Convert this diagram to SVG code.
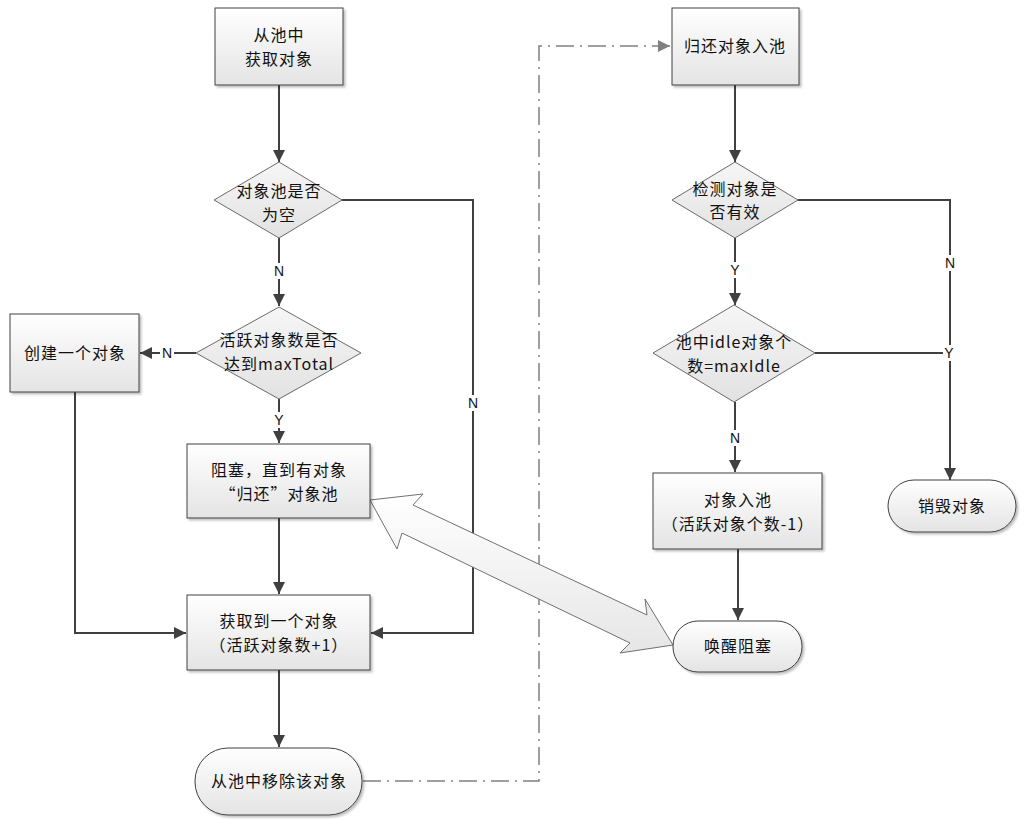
<svg xmlns="http://www.w3.org/2000/svg" width="1028" height="829" viewBox="0 0 1028 829">
<defs>
<linearGradient id="gBox" x1="0" y1="0" x2="0" y2="1">
<stop offset="0" stop-color="#ffffff"/>
<stop offset="1" stop-color="#e4e4e4"/>
</linearGradient>
<linearGradient id="gDia" x1="0" y1="0" x2="0" y2="1">
<stop offset="0" stop-color="#f6f6f6"/>
<stop offset="1" stop-color="#e2e2e2"/>
</linearGradient>
<linearGradient id="gBig" x1="0" y1="0" x2="0" y2="1">
<stop offset="0" stop-color="#ffffff"/>
<stop offset="1" stop-color="#e6e6e6"/>
</linearGradient>
<filter id="sh" x="-10%" y="-10%" width="130%" height="130%">
<feDropShadow dx="2" dy="2" stdDeviation="1" flood-color="#000" flood-opacity="0.25"/>
</filter>
<marker id="ah" viewBox="0 0 12 12" refX="12" refY="6" markerWidth="12" markerHeight="12" markerUnits="userSpaceOnUse" orient="auto">
<path d="M0,0 L12,6 L0,12 z" fill="#404040"/>
</marker>
<marker id="ahg" viewBox="0 0 12 12" refX="12" refY="6" markerWidth="12" markerHeight="12" markerUnits="userSpaceOnUse" orient="auto">
<path d="M0,0 L12,6 L0,12 z" fill="#808080"/>
</marker>
</defs>
<style>
.box{fill:url(#gBox);stroke:#404040;stroke-width:1;filter:url(#sh)}
.dia{fill:url(#gDia);stroke:#6a6a6a;stroke-width:1}
.t{font-family:"Noto Sans CJK SC","Noto Sans",sans-serif;font-size:16px;fill:#111;text-anchor:middle;letter-spacing:1px}
.c{fill:none;stroke:#404040;stroke-width:2}
.dd{fill:none;stroke:#808080;stroke-width:1.5;stroke-dasharray:18 6 2 6}
.lb{font-family:"Liberation Sans","Noto Sans",sans-serif;font-size:14px;fill:#111;text-anchor:middle}
.bg{fill:#ffffff}
</style>
<rect width="1028" height="829" fill="#ffffff"/>

<g id="connectors">
<path class="c" d="M279,85 V162" marker-end="url(#ah)"/>
<path class="c" d="M279,238 V306" marker-end="url(#ah)"/>
<path class="c" d="M342,200 H473 V633 H371" marker-end="url(#ah)"/>
<path class="c" d="M196,353 H140" marker-end="url(#ah)"/>
<path class="c" d="M279,399 V443" marker-end="url(#ah)"/>
<path class="c" d="M75,392 V633 H186" marker-end="url(#ah)"/>
<path class="c" d="M279,518 V594" marker-end="url(#ah)"/>
<path class="c" d="M279,670 V747" marker-end="url(#ah)"/>
<path class="dd" d="M363,781 H539 V46 H670" marker-end="url(#ahg)"/>
<path class="c" d="M735,85 V162" marker-end="url(#ah)"/>
<path class="c" d="M735,238 V305" marker-end="url(#ah)"/>
<path class="c" d="M798,200 H950 V480" marker-end="url(#ah)"/>
<path class="c" d="M815,353 H950"/>
<path class="c" d="M735,402 V472" marker-end="url(#ah)"/>
<path class="c" d="M738,549 V620" marker-end="url(#ah)"/>
<rect class="bg" x="272" y="263" width="14" height="16"/><text class="lb" x="279" y="276">N</text>
<rect class="bg" x="272" y="412" width="14" height="16"/><text class="lb" x="279" y="425">Y</text>
<rect class="bg" x="160" y="345" width="14" height="16"/><text class="lb" x="167" y="358">N</text>
<rect class="bg" x="466" y="395" width="14" height="16"/><text class="lb" x="473" y="408">N</text>
<rect class="bg" x="728" y="262" width="14" height="16"/><text class="lb" x="735" y="275">Y</text>
<rect class="bg" x="728" y="430" width="14" height="16"/><text class="lb" x="735" y="443">N</text>
<rect class="bg" x="943" y="255" width="14" height="16"/><text class="lb" x="950" y="268">N</text>
<rect class="bg" x="943" y="345" width="14" height="16"/><text class="lb" x="949" y="358">Y</text>
</g>

<g id="bigArrow">
<polygon points="370,500 423,494 413,505 647,615 645,599 673,645 620,653 630,643 402,533 397,549" fill="url(#gBig)" stroke="#707070" stroke-width="1"/>
</g>

<g id="n1">
<rect class="box" x="215" y="8" width="128" height="77"/>
<text class="t" x="279" y="41">从池中</text>
<text class="t" x="279" y="65">获取对象</text>
</g>
<g id="d1">
<polygon class="dia" points="279,162 342,200 279,238 214,200"/>
<text class="t" x="279" y="197">对象池是否</text>
<text class="t" x="279" y="221">为空</text>
</g>
<g id="d2">
<polygon class="dia" points="279,307 361,353 279,399 196,353"/>
<text class="t" x="279" y="346">活跃对象数是否</text>
<text class="t" x="279" y="370">达到maxTotal</text>
</g>
<g id="n2">
<rect class="box" x="10" y="314" width="129" height="78"/>
<text class="t" x="75" y="359">创建一个对象</text>
</g>
<g id="n3">
<rect class="box" x="187" y="444" width="183" height="74"/>
<text class="t" x="279" y="476">阻塞，直到有对象</text>
<text class="t" x="279" y="500">“归还”对象池</text>
</g>
<g id="n4">
<rect class="box" x="187" y="595" width="183" height="75"/>
<text class="t" x="279" y="627">获取到一个对象</text>
<text class="t" x="279" y="651">（活跃对象数+1）</text>
</g>
<g id="n5">
<rect class="box" x="195" y="748" width="167" height="67" rx="33" ry="33"/>
<text class="t" x="279" y="787">从池中移除该对象</text>
</g>
<g id="n6">
<rect class="box" x="672" y="8" width="127" height="77"/>
<text class="t" x="735" y="52">归还对象入池</text>
</g>
<g id="d3">
<polygon class="dia" points="735,162 798,200 735,238 672,200"/>
<text class="t" x="735" y="195">检测对象是</text>
<text class="t" x="735" y="218">否有效</text>
</g>
<g id="d4">
<polygon class="dia" points="734,305 815,353 734,402 653,353"/>
<text class="t" x="734" y="348">池中idle对象个</text>
<text class="t" x="734" y="372">数=maxIdle</text>
</g>
<g id="n7">
<rect class="box" x="653" y="473" width="169" height="76"/>
<text class="t" x="738" y="506">对象入池</text>
<text class="t" x="738" y="530">（活跃对象个数-1）</text>
</g>
<g id="n8">
<rect class="box" x="673" y="621" width="129" height="51" rx="25" ry="25"/>
<text class="t" x="738" y="652">唤醒阻塞</text>
</g>
<g id="n9">
<rect class="box" x="888" y="480" width="128" height="52" rx="26" ry="26"/>
<text class="t" x="952" y="512">销毁对象</text>
</g>
</svg>
